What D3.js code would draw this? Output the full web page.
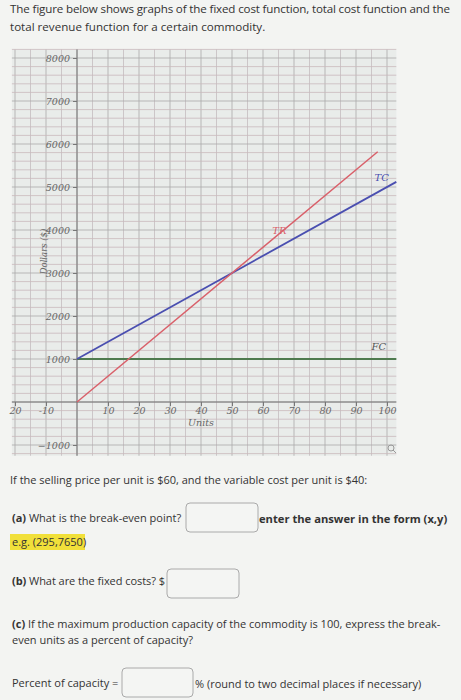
<!DOCTYPE html>
<html><head><meta charset="utf-8">
<script src="https://cdn.jsdelivr.net/npm/d3@7"></script>
<style>
body{margin:0;width:461px;height:700px;background:#f3f4f2;font-family:"Open Sans",sans-serif;color:#333;overflow:hidden}
svg{position:absolute;left:0;top:0}
</style></head><body>
<svg id="c" width="461" height="700"></svg>
<script>
const xTicks = [-20, -10, 10, 20, 30, 40, 50, 60, 70, 80, 90, 100];
const yTicks = [-1000, 1000, 2000, 3000, 4000, 5000, 6000, 7000, 8000];
const fixedCost = 1000;
const varCost = 40;
const price = 60;
const fcX = [0, 103];
const tcX = [0, 103];
const trX = [0, 97];

const svg = d3.select("#c");
const x = d3.scaleLinear().domain([0, 100]).range([77, 387]);
const y = d3.scaleLinear().domain([0, 8000]).range([402, 58]);

// title
const title = ["The figure below shows graphs of the fixed cost function, total cost function and the",
  "total revenue function for a certain commodity."];
svg.selectAll(".title").data(title).enter().append("text")
  .attr("x", 10).attr("y", (d, i) => 13 + i * 18)
  .attr("font-size", 11.6).attr("textLength", (d, i) => i == 0 ? 440 : null)
  .attr("fill", "#333").text(d => d);

// grid
const g = svg.append("g");
g.append("rect").attr("x", x(-21)).attr("y", y(8200)).attr("width", x(103) - x(-21))
  .attr("height", y(-1250) - y(8200)).attr("fill", "#e9ecea");
g.selectAll(".vg").data(d3.range(-20, 104, 5)).enter().append("line")
  .attr("x1", d => x(d)).attr("x2", d => x(d))
  .attr("y1", y(8200)).attr("y2", y(-1250))
  .attr("stroke", d => d % 10 == 0 ? "#aaa" : "#c4bcbf").attr("stroke-width", 0.8);
g.selectAll(".hg").data(d3.range(-1200, 8201, 200)).enter().append("line")
  .attr("y1", d => y(d)).attr("y2", d => y(d))
  .attr("x1", x(-21)).attr("x2", x(103))
  .attr("stroke", d => d % 1000 == 0 ? "#aaa" : "#c9b9bd").attr("stroke-width", 0.8);

// axes
const xAxis = d3.axisBottom(x).tickValues(xTicks).tickSize(4).tickFormat(d3.format("d"));
const ax = svg.append("g").attr("transform", `translate(0,${y(0)})`).call(xAxis);
ax.select(".domain").attr("d", `M${x(-21)},0H${x(103)}`).attr("stroke", "#777");
const yAxis = d3.axisLeft(y).tickValues(yTicks).tickSize(4).tickFormat(d3.format("d"));
const ay = svg.append("g").attr("transform", `translate(${x(0)},0)`).call(yAxis);
ay.select(".domain").attr("d", `M0,${y(-1250)}V${y(8200)}`).attr("stroke", "#777");
svg.selectAll(".tick line").attr("stroke", "#777");
svg.selectAll(".tick text").attr("font-family", "DejaVu Serif, serif").attr("font-style", "italic")
  .attr("font-size", 9.5).attr("fill", "#666");
ax.selectAll(".tick text").attr("dy", "0.5em").text(d => d == -20 ? "20" : d);
svg.append("text").attr("x", x(40)).attr("y", y(0) + 24).attr("text-anchor", "middle")
  .attr("font-family", "DejaVu Serif, serif").attr("font-style", "italic").attr("font-size", 9.5)
  .attr("fill", "#666").text("Units");
svg.append("text").attr("transform", `translate(47,${y(3500)}) rotate(-90)`).attr("text-anchor", "middle")
  .attr("font-family", "DejaVu Serif, serif").attr("font-style", "italic").attr("font-size", 8.5)
  .attr("fill", "#666").text("Dollars ($)");

// lines
const line = d3.line().x(d => x(d[0])).y(d => y(d[1]));
svg.append("path").attr("d", line(fcX.map(v => [v, fixedCost]))).attr("stroke", "#4e7a4e").attr("stroke-width", 2).attr("fill", "none");
svg.append("path").attr("d", line(tcX.map(v => [v, fixedCost + varCost * v]))).attr("stroke", "#4a4fb0").attr("stroke-width", 1.8).attr("fill", "none");
svg.append("path").attr("d", line(trX.map(v => [v, price * v]))).attr("stroke", "#d9606a").attr("stroke-width", 1.5).attr("fill", "none");
const lab = [["TR", 63, 3900, "#d9606a"], ["TC", 96, 5150, "#4a4fb0"], ["FC", 95, 1200, "#555"]];
svg.selectAll(".lab").data(lab).enter().append("text")
  .attr("x", d => x(d[1])).attr("y", d => y(d[2]))
  .attr("font-family", "DejaVu Serif, serif").attr("font-style", "italic").attr("font-size", 10)
  .attr("fill", d => d[3]).text(d => d[0]);
svg.append("circle").attr("cx", 391).attr("cy", 448).attr("r", 3).attr("fill", "none").attr("stroke", "#999");
svg.append("line").attr("x1", 393).attr("y1", 450).attr("x2", 396).attr("y2", 453).attr("stroke", "#999");

// questions
function txt(xp, yp, parts, size) {
  const t = svg.append("text").attr("x", xp).attr("y", yp).attr("font-size", size || 11).attr("fill", "#333");
  parts.forEach(p => t.append("tspan").attr("font-weight", p[1] ? "bold" : null).text(p[0]));
  return t;
}
function box(xp, yp, w) {
  svg.append("rect").attr("x", xp).attr("y", yp).attr("width", w).attr("height", 29).attr("rx", 4)
    .attr("fill", "#f4f5f3").attr("stroke", "#aaa");
}
txt(10, 484, [["If the selling price per unit is $60, and the variable cost per unit is $40:"]]);
txt(12, 522, [["(a)", 1], [" What is the break-even point?"]]);
box(186, 503, 72);
txt(259, 523, [["enter the answer in the form (x,y)", 1]], 11.2);
svg.append("rect").attr("x", 10).attr("y", 534).attr("width", 75).attr("height", 16).attr("fill", "#f1e03a");
txt(12, 546, [["e.g. (295,7650)"]]);
txt(12, 585, [["(b)", 1], [" What are the fixed costs? $"]]).attr("textLength", 153);
box(167, 569, 72);
txt(12, 628, [["(c)", 1], [" If the maximum production capacity of the commodity is 100, express the break-"]]);
txt(12, 644, [["even units as a percent of capacity?"]]);
txt(12, 687, [["Percent of capacity ="]]);
box(122, 668, 71);
txt(195, 688, [["% (round to two decimal places if necessary)"]]);
</script></body></html>
